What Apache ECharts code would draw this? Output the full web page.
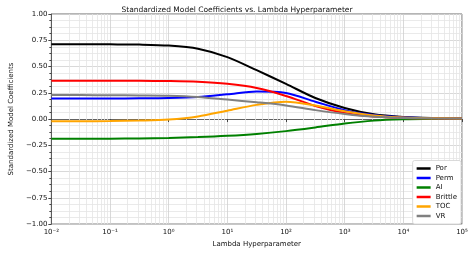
<!DOCTYPE html>
<html>
<head>
<meta charset="utf-8">
<script src="https://cdn.jsdelivr.net/npm/echarts@6/dist/echarts.min.js"></script>
<style>
  html, body { margin: 0; padding: 0; background: #fff; }
  #Grf { width: 474px; height: 253px; }
</style>
</head>
<body>
<div id="Grf"></div>
<script>
// lambda grid, half decades from 1e-2 to 1e5
const lambdaExp = [-2, -1.5, -1, -0.5, 0, 0.5, 1, 1.5, 2, 2.5, 3, 3.5, 4, 4.5, 5];

const names = ['Por', 'Perm', 'AI', 'Brittle', 'TOC', 'VR'];
const colors = ['#000000', '#0000ff', '#008000', '#ff0000', '#ffa500', '#808080'];

const por     = [0.712, 0.712, 0.711, 0.709, 0.700, 0.670, 0.590, 0.465, 0.335, 0.200, 0.105, 0.045, 0.020, 0.010, 0.006];
const perm    = [0.196, 0.196, 0.196, 0.197, 0.200, 0.210, 0.235, 0.262, 0.248, 0.165, 0.085, 0.038, 0.016, 0.008, 0.006];
const ai      = [-0.188, -0.188, -0.187, -0.185, -0.180, -0.172, -0.160, -0.142, -0.115, -0.080, -0.042, -0.015, -0.003, 0.002, 0.004];
const brittle = [0.365, 0.365, 0.365, 0.364, 0.362, 0.355, 0.335, 0.295, 0.220, 0.125, 0.058, 0.024, 0.011, 0.007, 0.005];
const toc     = [-0.020, -0.020, -0.019, -0.014, -0.004, 0.025, 0.080, 0.135, 0.165, 0.130, 0.075, 0.035, 0.015, 0.008, 0.006];
const vr      = [0.228, 0.228, 0.227, 0.225, 0.222, 0.210, 0.185, 0.160, 0.130, 0.085, 0.048, 0.022, 0.011, 0.007, 0.006];

const seriesValues = [por, perm, ai, brittle, toc, vr];

// minor grid positions on the log axis (2..9 x each decade)
const decades = [-2, -1, 0, 1, 2, 3, 4];
const minorMults = [2, 3, 4, 5, 6, 7, 8, 9];

const sup = {'-': '\u207B', '0': '\u2070', '1': '\u00B9', '2': '\u00B2', '3': '\u00B3', '4': '\u2074', '5': '\u2075'};

const getOption = () => {
    const lambdas = lambdaExp.map(e => Math.pow(10, e));
    const minorLines = [];
    decades.forEach(d => {
        minorMults.forEach(m => minorLines.push({ xAxis: m * Math.pow(10, d) }));
    });

    const series = names.map((n, i) => ({
        name: n,
        type: 'line',
        smooth: 0.3,
        showSymbol: false,
        lineStyle: { width: 2, color: colors[i], type: 'solid' },
        itemStyle: { color: colors[i] },
        data: lambdas.map((l, j) => [l, seriesValues[i][j]]),
        z: 3 + i
    }));

    // minor vertical grid, kept under the curves
    series.unshift({
        name: 'minor',
        type: 'line',
        data: [],
        silent: true,
        z: 1,
        markLine: {
            silent: true,
            z: 1,
            symbol: 'none',
            animation: false,
            label: { show: false },
            emphasis: { disabled: true },
            lineStyle: { color: '#e4e4e4', width: 0.8, type: 'solid' },
            data: minorLines
        }
    });

    return {
        backgroundColor: '#fff',
        animation: false,
        title: {
            text: 'Standardized Model Coefficients vs. Lambda Hyperparameter',
            left: 'center',
            top: 1,
            textStyle: { fontSize: 7.5, fontWeight: 'normal', color: '#111', fontFamily: 'DejaVu Sans' }
        },
        legend: {
            data: names,
            orient: 'vertical',
            right: 13,
            bottom: 29,
            z: 20,
            icon: 'rect',
            itemWidth: 14,
            itemHeight: 2.5,
            itemGap: 1.5,
            padding: [4, 4, 4, 4],
            backgroundColor: '#fff',
            borderColor: '#d0d0d0',
            borderWidth: 0.8,
            borderRadius: 2,
            textStyle: { fontSize: 7, color: '#111', fontFamily: 'DejaVu Sans', lineHeight: 8 }
        },
        grid: {
            left: 36, right: 12, top: 14, bottom: 25,
            show: true, borderColor: '#444', borderWidth: 0.8
        },
        xAxis: {
            type: 'log',
            logBase: 10,
            min: 0.01,
            max: 100000,
            name: 'Lambda Hyperparameter',
            nameLocation: 'middle',
            nameGap: 14,
            nameTextStyle: { fontSize: 7, color: '#111', fontFamily: 'DejaVu Sans' },
            axisLine: { lineStyle: { color: '#444', width: 0.8 } },
            axisTick: { show: true, length: 3, lineStyle: { color: '#444' } },
            axisLabel: {
                fontSize: 7, color: '#111', fontFamily: 'DejaVu Sans', margin: 5,
                formatter: v => {
                    const e = Math.round(Math.log10(v));
                    return '10' + String(e).split('').map(c => sup[c]).join('');
                }
            },
            splitLine: { show: true, lineStyle: { color: '#cfcfcf', width: 0.8 } }
        },
        yAxis: {
            type: 'value',
            min: -1,
            max: 1,
            interval: 0.25,
            name: 'Standardized Model Coefficients',
            nameLocation: 'middle',
            nameGap: 32,
            nameTextStyle: { fontSize: 7, color: '#111', fontFamily: 'DejaVu Sans' },
            axisLine: { show: true, lineStyle: { color: '#444', width: 0.8 } },
            axisTick: { show: true, length: 3, lineStyle: { color: '#444' } },
            axisLabel: {
                fontSize: 7, color: '#111', fontFamily: 'DejaVu Sans', margin: 4,
                formatter: v => v.toFixed(2).replace('-', '\u2212')
            },
            splitLine: { show: true, lineStyle: { color: '#cfcfcf', width: 0.8 } },
            minorTick: { show: true, splitNumber: 4, length: 2, lineStyle: { color: '#444' } },
            minorSplitLine: { show: true, lineStyle: { color: '#e4e4e4', width: 0.8 } }
        },
        series: series
    };
};

const initCharts = () => {
    const grafica = echarts.init(document.querySelector('#Grf'));
    grafica.setOption(getOption());
};

initCharts();
</script>
</body>
</html>
